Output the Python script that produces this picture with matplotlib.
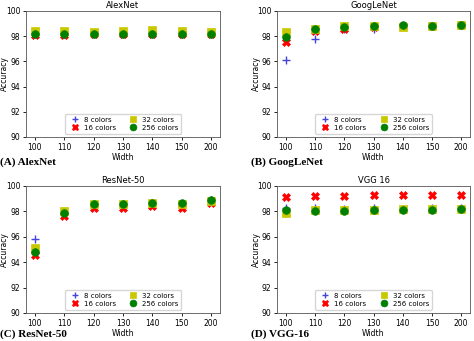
import matplotlib
matplotlib.use('Agg')
import matplotlib.pyplot as plt

widths = ['100', '110', '120', '130', '140', '150', '200']
labels = ['8 colors', '16 colors', '32 colors', '256 colors']

# accuracy per model: 8, 16, 32, 256 colors
alexnet_8 = [98.2, 98.2, 98.2, 98.2, 98.2, 98.2, 98.2]
alexnet_16 = [98.1, 98.1, 98.2, 98.2, 98.2, 98.2, 98.2]
alexnet_32 = [98.4, 98.4, 98.3, 98.4, 98.5, 98.4, 98.3]
alexnet_256 = [98.2, 98.2, 98.2, 98.2, 98.2, 98.2, 98.2]

googlenet_8 = [96.1, 97.8, 98.6, 98.6, 98.8, 98.8, 98.9]
googlenet_16 = [97.5, 98.4, 98.6, 98.7, 98.8, 98.8, 98.9]
googlenet_32 = [98.3, 98.6, 98.8, 98.8, 98.7, 98.8, 98.9]
googlenet_256 = [97.9, 98.6, 98.7, 98.8, 98.9, 98.8, 98.9]

resnet_8 = [95.8, 97.9, 98.6, 98.6, 98.7, 98.6, 98.9]
resnet_16 = [94.6, 97.6, 98.3, 98.3, 98.4, 98.3, 98.7]
resnet_32 = [95.1, 98.0, 98.6, 98.6, 98.7, 98.6, 98.8]
resnet_256 = [94.8, 97.9, 98.6, 98.6, 98.7, 98.7, 98.9]

vgg_8 = [98.3, 98.3, 98.2, 98.3, 98.2, 98.3, 98.3]
vgg_16 = [99.1, 99.2, 99.2, 99.3, 99.3, 99.3, 99.3]
vgg_32 = [97.9, 98.1, 98.1, 98.1, 98.2, 98.2, 98.2]
vgg_256 = [98.1, 98.0, 98.0, 98.1, 98.1, 98.1, 98.2]

panels = [
    ('AlexNet', '(A) AlexNet', [alexnet_8, alexnet_16, alexnet_32, alexnet_256]),
    ('GoogLeNet', '(B) GoogLeNet', [googlenet_8, googlenet_16, googlenet_32, googlenet_256]),
    ('ResNet-50', '(C) ResNet-50', [resnet_8, resnet_16, resnet_32, resnet_256]),
    ('VGG 16', '(D) VGG-16', [vgg_8, vgg_16, vgg_32, vgg_256]),
]

styles = [('+', '#4444dd', 5.5), ('X', 'red', 5.5), ('s', '#c8c800', 5.5), ('o', 'green', 5.5)]

W, H = 474.0, 341.0
# axes boxes in pixels: left, top, right, bottom
boxes = [(26, 11, 220, 137), (277, 11, 470, 137), (26, 186, 220, 313), (277, 186, 470, 313)]
captions = [(0, 162), (251, 162), (0, 334), (251, 334)]

fig = plt.figure(figsize=(W / 100, H / 100), dpi=100)

for (title, cap, series), (l, t, r, b), (cx, cy) in zip(panels, boxes, captions):
    ax = fig.add_axes([l / W, 1 - b / H, (r - l) / W, (b - t) / H])
    x = range(len(widths))
    for vals, lab, (m, c, s) in zip(series, labels, styles):
        ax.plot(x, vals, linestyle='none', marker=m, color=c, markersize=s,
                markeredgewidth=1.0 if m == '+' else 0.5, label=lab)
    ax.set_ylim(90, 100)
    ax.set_yticks([90, 92, 94, 96, 98, 100])
    ax.set_xticks(list(x))
    ax.set_xticklabels(widths)
    ax.set_xlim(-0.3, 6.3)
    ax.tick_params(labelsize=5.5, length=2, width=0.6, pad=2)
    for sp in ax.spines.values():
        sp.set_linewidth(0.6)
        sp.set_color('#555555')
    ax.set_title(title, fontsize=6, pad=2)
    ax.set_xlabel('Width', fontsize=5.5, labelpad=1)
    ax.set_ylabel('Accuracy', fontsize=5.5)
    lx = 9 if l < 100 else 261
    ax.yaxis.set_label_coords((lx - l) / (r - l), 0.5)
    ax.legend(loc='lower center', ncol=2, fontsize=5, markerscale=0.9,
              handletextpad=0.3, columnspacing=1.5, borderpad=0.4,
              labelspacing=0.3, frameon=True)
    fig.text(cx / W, 1 - cy / H, cap, fontsize=8, fontweight='bold',
             family='Liberation Serif', va='center', ha='left')

fig.savefig('out.png', dpi=100)
